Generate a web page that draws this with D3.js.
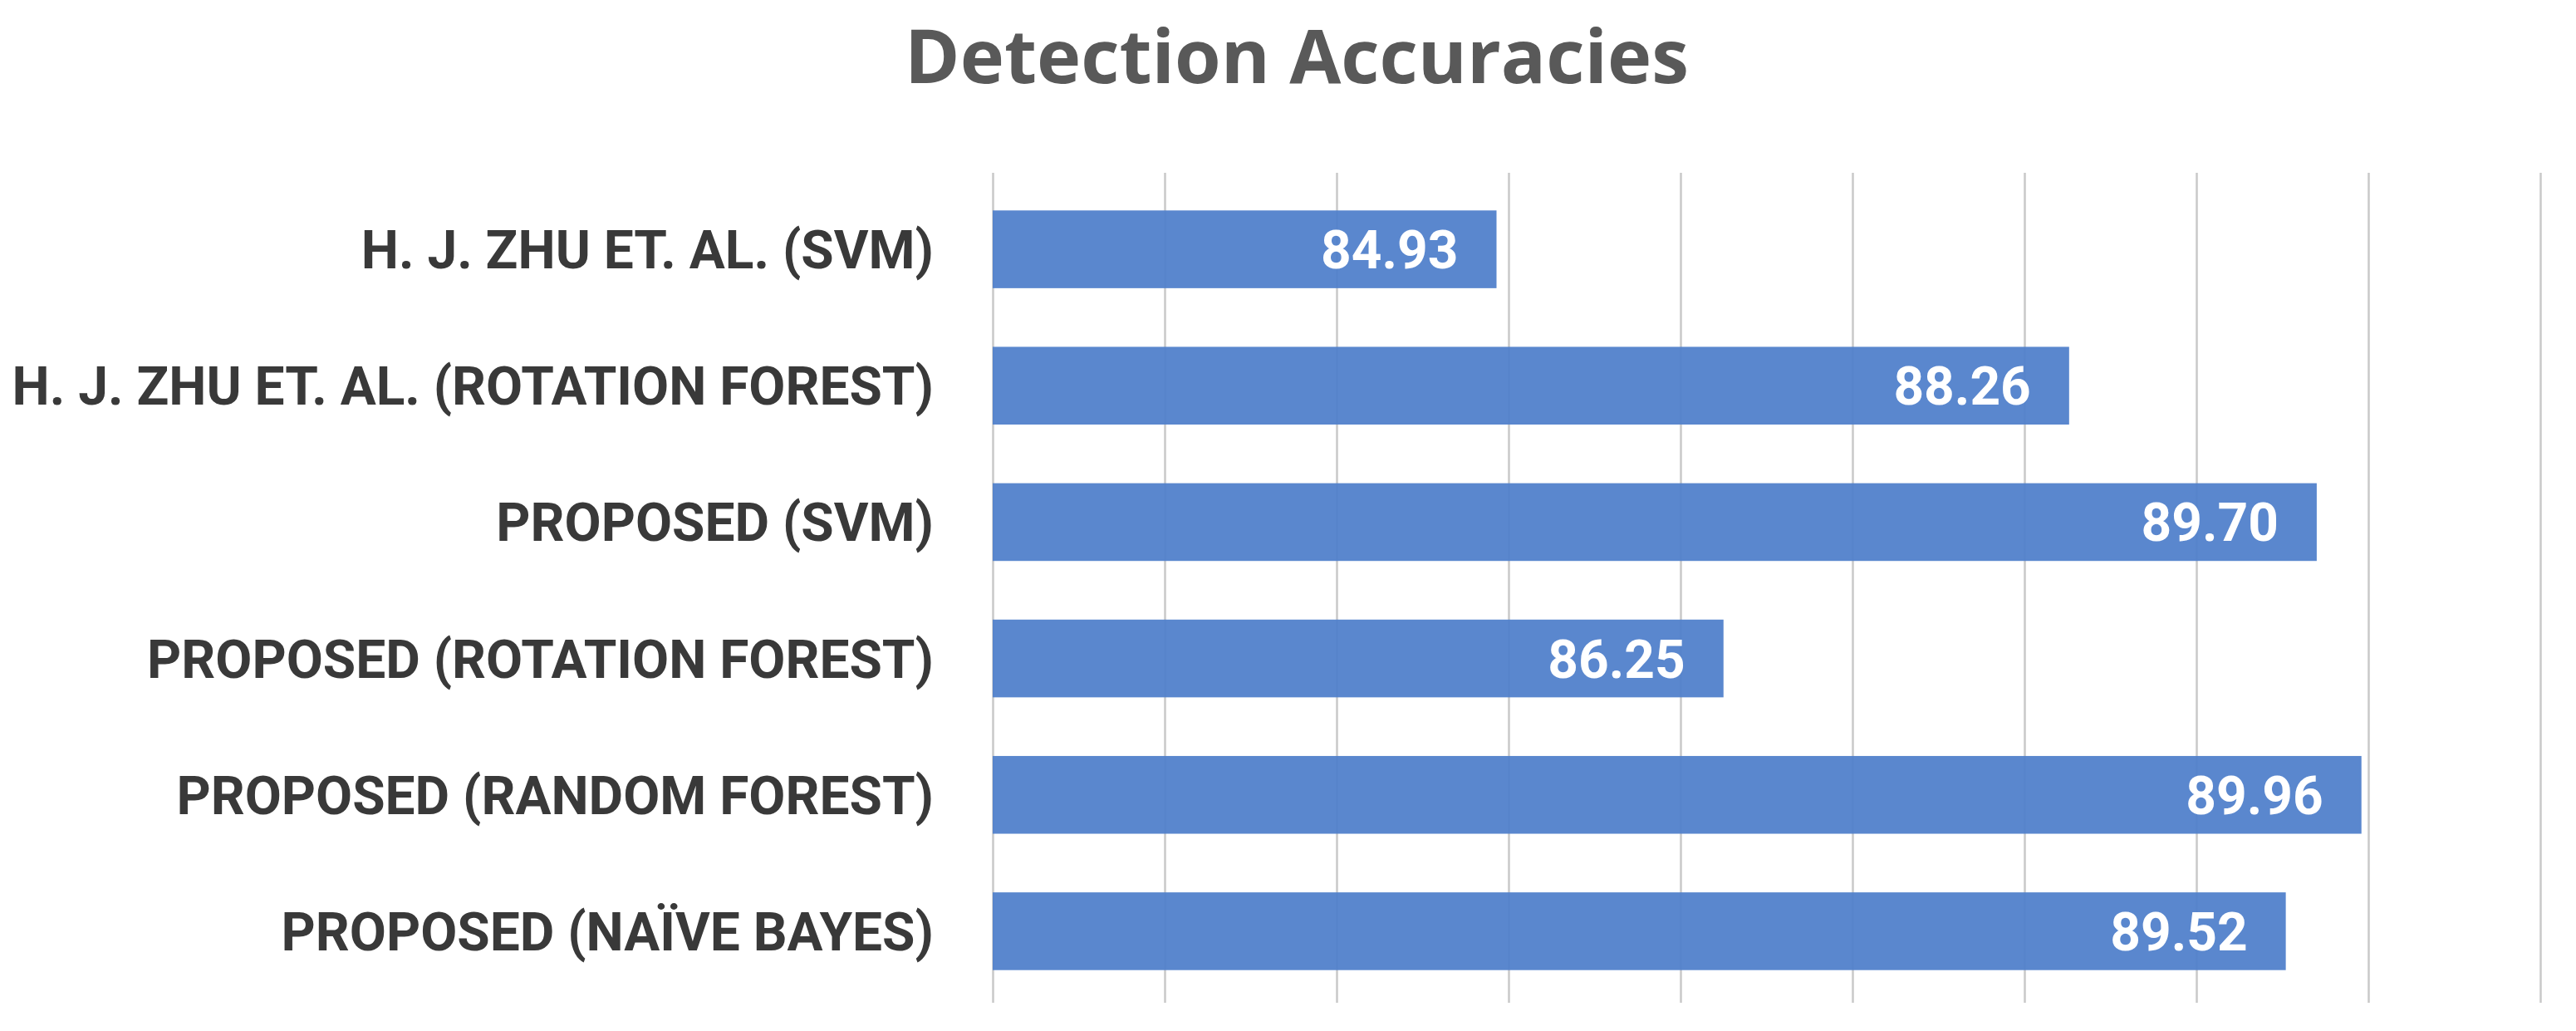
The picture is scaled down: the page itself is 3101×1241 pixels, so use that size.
<!DOCTYPE html>
<html>
<head>
<meta charset="utf-8">
<script src="https://cdn.jsdelivr.net/npm/d3@7"></script>
<style>
  html, body { margin: 0; padding: 0; background: #fff; }
  svg { display: block; }
</style>
</head>
<body>
<svg id="canvas"></svg>
<script>
/***********************************************************************/
// Data

var title = 'Detection Accuracies';

var categories = [
  'H. J. ZHU ET. AL. (SVM)',
  'H. J. ZHU ET. AL. (ROTATION FOREST)',
  'PROPOSED (SVM)',
  'PROPOSED (ROTATION FOREST)',
  'PROPOSED (RANDOM FOREST)',
  'PROPOSED (NAÏVE BAYES)'
];

var accuracies = [84.93, 88.26, 89.70, 86.25, 89.96, 89.52];

var xTicks = [82, 83, 84, 85, 86, 87, 88, 89, 90, 91];

/***********************************************************************/
// Layout

var svg_width = 3101, svg_height = 1241;
var plot_left = 1195, plot_right = 3058;
var plot_top = 218, plot_bottom = 1203;
var grid_top = 208, grid_bottom = 1207;

var svg = d3.select('#canvas').attr('width', svg_width).attr('height', svg_height);

var xScale = d3.scaleLinear().domain([d3.min(xTicks), d3.max(xTicks)]).range([plot_left, plot_right]);
var yScale = d3.scaleBand().domain(categories).range([plot_top, plot_bottom]).paddingInner(0.43).paddingOuter(0.215);

/***********************************************************************/
// Title

svg.append('text')
  .attr('x', 1561).attr('y', 100)
  .attr('text-anchor', 'middle')
  .style('font-family', '"Open Sans", sans-serif')
  .style('font-weight', 700)
  .style('font-size', '90px')
  .style('fill', '#595959')
  .text(title);

/***********************************************************************/
// Grid lines

var gridAxis = d3.axisBottom(xScale)
  .tickValues(xTicks)
  .tickSize(-(grid_bottom - grid_top))
  .tickFormat('');

var grid = svg.append('g')
  .attr('transform', 'translate(0,' + grid_bottom + ')')
  .call(gridAxis);
grid.select('.domain').remove();
grid.selectAll('.tick line').style('stroke', '#c9c9c9').style('stroke-width', 2.5);

/***********************************************************************/
// Bars (slightly see-through so grid lines show faintly, as in the original)

svg.append('g').selectAll('rect')
  .data(categories)
  .join('rect')
  .attr('x', xScale(d3.min(xTicks)))
  .attr('y', d => yScale(d))
  .attr('width', (d, i) => xScale(accuracies[i]) - xScale(d3.min(xTicks)))
  .attr('height', yScale.bandwidth())
  .style('fill', '#5080CB')
  .style('fill-opacity', 0.94);

/***********************************************************************/
// Category labels

svg.append('g').selectAll('text')
  .data(categories)
  .join('text')
  .attr('x', 1124)
  .attr('y', d => yScale(d) + yScale.bandwidth() / 2)
  .attr('dy', '0.36em')
  .attr('text-anchor', 'end')
  .style('font-family', 'Roboto, sans-serif')
  .style('font-weight', 700)
  .style('font-size', '64px')
  .style('fill', '#393939')
  .text(d => d);

/***********************************************************************/
// Value labels

svg.append('g').selectAll('text')
  .data(categories)
  .join('text')
  .attr('x', (d, i) => xScale(accuracies[i]) - 46)
  .attr('y', d => yScale(d) + yScale.bandwidth() / 2)
  .attr('dy', '0.36em')
  .attr('text-anchor', 'end')
  .style('font-family', 'Roboto, sans-serif')
  .style('font-weight', 700)
  .style('font-size', '64px')
  .style('fill', '#ffffff')
  .text((d, i) => accuracies[i].toFixed(2));
</script>
</body>
</html>
